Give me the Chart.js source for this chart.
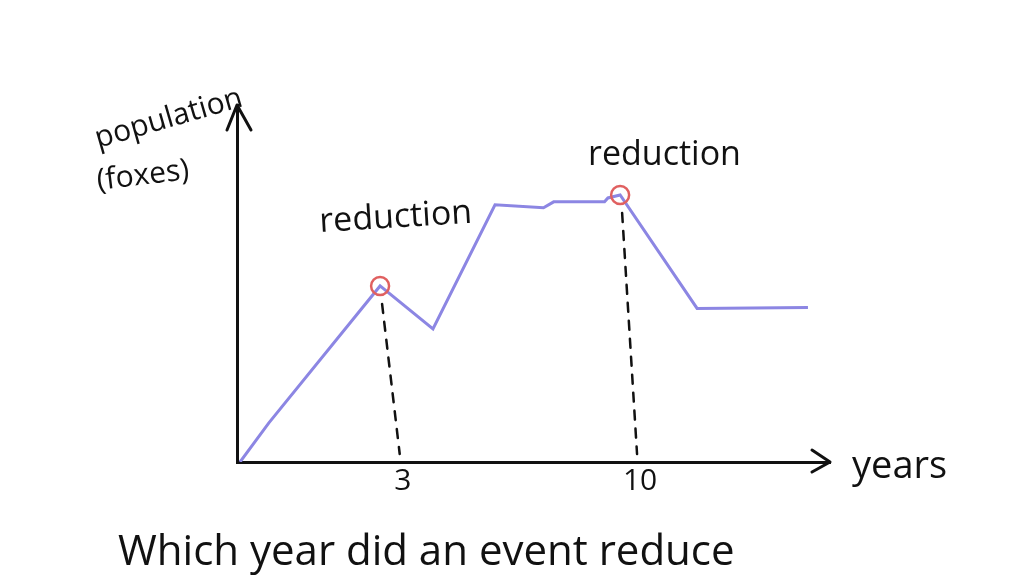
<!DOCTYPE html>
<html><head><meta charset="utf-8">
<script src="https://cdn.jsdelivr.net/npm/chart.js"></script>
<style>html,body{margin:0;background:#fff}#w{width:1024px;height:576px}</style>
</head><body><div id="w"><canvas id="c"></canvas></div>
<script>
const years = [-1.65, -0.8, 2.48, 4.04, 5.87, 7.3, 7.6, 9.1, 9.2, 9.56, 11.83, 15.1];
const population = [0, 4, 18, 13.6, 26.3, 26.0, 26.6, 26.6, 27.0, 27.3, 15.7, 15.8];
const tickYears = ["3", "10"];
const tickValues = [3, 10];
const markedPeaks = [2, 9];
const labels = ["reduction", "reduction"];
const axisTitles = ["population", "(foxes)", "years"];
const questionText = "Which year did an event reduce";

const hand = '"Comic Sans MS","Open Sans",sans-serif';
const deco = {
  id: 'deco',
  afterDatasetsDraw(ch) {
    const c = ch.ctx, x = ch.scales.x, y = ch.scales.y, a = ch.chartArea;
    c.save();
    c.strokeStyle = '#111'; c.lineWidth = 3; c.lineCap = 'round';
    c.beginPath(); c.moveTo(a.left, a.top); c.lineTo(a.left - 10, a.top + 25);
    c.moveTo(a.left, a.top); c.lineTo(a.left + 14, a.top + 25);
    c.moveTo(a.right, a.bottom); c.lineTo(a.right - 18, a.bottom - 12);
    c.moveTo(a.right, a.bottom); c.lineTo(a.right - 18, a.bottom + 10); c.stroke();
    markedPeaks.forEach((i, k) => {
      const px = x.getPixelForValue(years[i]), py = y.getPixelForValue(population[i]);
      const tx = x.getPixelForValue(tickValues[k]);
      c.setLineDash([9, 9]); c.lineWidth = 2.5; c.strokeStyle = '#111';
      c.beginPath(); c.moveTo(px + 2, py + 18); c.lineTo(tx + 2, a.bottom - 8); c.stroke();
      c.setLineDash([]); c.strokeStyle = '#e06060'; c.lineWidth = 2.5;
      c.beginPath(); c.arc(px, py, 9, 0, Math.PI * 2); c.stroke();
    });
    c.fillStyle = '#111'; c.textAlign = 'center'; c.textBaseline = 'top';
    c.font = '30px ' + hand;
    tickYears.forEach((t, k) => c.fillText(t, x.getPixelForValue(tickValues[k]) + 5, a.bottom + 4));
    c.textAlign = 'left'; c.textBaseline = 'alphabetic';
    const lab = (t, lx, ly, r, f) => { c.save(); c.translate(lx, ly); c.rotate(r); c.font = f; c.fillText(t, 0, 0); c.restore(); };
    lab(labels[0], 320, 232, -0.06, '34px ' + hand);
    lab(labels[1], 588, 165, 0, '34px ' + hand);
    lab(axisTitles[0], 98, 148, -0.28, '30px ' + hand);
    lab(axisTitles[1], 98, 190, -0.12, '30px ' + hand);
    lab(axisTitles[2], 852, 478, 0, '38px ' + hand);
    lab(questionText, 118, 565, 0, '42px ' + hand);
    c.restore();
  }
};

new Chart(document.getElementById('c'), {
  type: 'line',
  data: { datasets: [{ data: years.map((v, i) => ({ x: v, y: population[i] })),
    borderColor: '#8c86e3', borderWidth: 3, pointRadius: 0, tension: 0 }] },
  options: {
    responsive: true, maintainAspectRatio: false, animation: false,
    layout: { padding: { left: 229, right: 194, top: 105, bottom: 106 } },
    plugins: { legend: { display: false }, tooltip: { enabled: false } },
    scales: {
      x: { type: 'linear', min: -1.74, max: 15.75, grid: { display: false },
        ticks: { display: false }, border: { color: '#111', width: 3 } },
      y: { min: 0, max: 36.5, grid: { display: false },
        ticks: { display: false }, border: { color: '#111', width: 3 } }
    }
  },
  plugins: [deco]
});
</script></body></html>
